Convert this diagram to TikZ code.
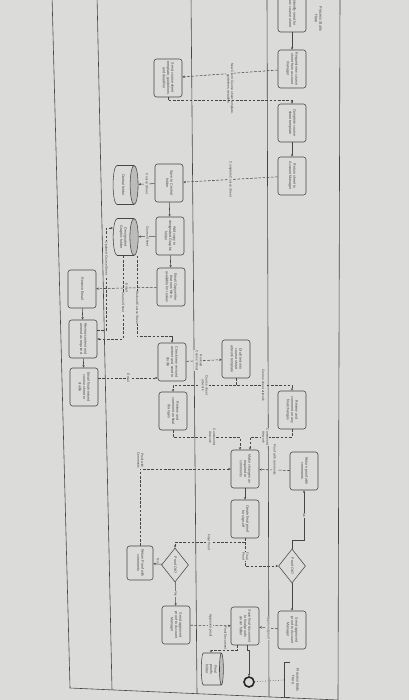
\documentclass[tikz,border=0pt]{standalone}
\usepackage{fontspec}
\setmainfont{Liberation Sans}
\usepackage{graphicx}
\usepackage{tikz}
\usetikzlibrary{shapes.geometric}
\usetikzlibrary{arrows.meta}
\usetikzlibrary{calc}
\definecolor{pagec}{RGB}{219,220,217}
\definecolor{linec}{RGB}{70,70,70}
\definecolor{capc}{RGB}{188,189,186}
\newcommand{\vt}[1]{\rotatebox{-90}{\begin{tabular}{@{}c@{}}#1\end{tabular}}}
\tikzset{task/.style={draw=linec, fill=pagec, rounded corners=2.5pt, line width=0.55pt, inner sep=0.5pt, minimum width=28pt, minimum height=38pt, text=linec, font=\fontsize{3.6}{4.2}\selectfont}}
\tikzset{gate/.style={diamond, draw=linec, fill=pagec, line width=0.55pt, inner sep=0pt, minimum width=27pt, minimum height=34pt, text=linec, font=\fontsize{3.6}{4.2}\selectfont}}
\tikzset{store/.style={cylinder, shape border rotate=0, shape aspect=0.35, draw=linec, cylinder uses custom fill, cylinder body fill=pagec, cylinder end fill=capc, line width=0.55pt, inner sep=0.5pt, minimum width=39pt, minimum height=25pt, text=linec, font=\fontsize{3.6}{4.2}\selectfont}}
\tikzset{stop/.style={circle, draw=black!85, line width=1.6pt, minimum size=10pt, inner sep=0pt}}
\tikzset{note/.style={text=linec, inner sep=1pt, minimum width=22pt, minimum height=35pt, font=\fontsize{3.8}{4.4}\selectfont}}
\tikzset{flow/.style={draw=linec, line width=0.55pt, -{Stealth[length=2.6pt,width=2.2pt]}}}
\tikzset{msg/.style={flow, dash pattern=on 2.6pt off 1.6pt}}
\tikzset{lbl/.style={fill=pagec, inner sep=0.4pt, text=linec, font=\fontsize{3.3}{3.9}\selectfont}}
\tikzset{lane/.style={draw=linec, line width=0.6pt}}

\begin{document}
\begin{tikzpicture}[x=1pt, y=-1pt]
  \useasboundingbox (0,0) rectangle (409,700);
  \fill[pagec] (0,0) rectangle (409,700);

  % swimlanes
  \draw[lane] (52,-5) -- (70,688) -- (338,700);
  \draw[lane] (97,-5) -- (112,690);
  \draw[lane] (191,-5) -- (197,694);
  \draw[lane] (267,-5) -- (269,697);
  \draw[lane] (340,-5) -- (338,700);

  \node[note] at (318, 19) (ps) {\vt{Process Starts\\Here}};

  \node[task] at (292, 13) (idn) {\vt{Identify need for\\new course sheet}};
  \node[task] at (292, 69) (req) {\vt{Request new course\\sheet from account\\manager}};
  \node[task] at (292, 123) (cmp) {\vt{Complete course\\sheet template}};
  \node[task] at (292, 176) (ret) {\vt{Return sheet to\\Account Manager}};

  \node[task] at (168, 78) (snd) {\vt{Send course sheet\\template, guidelines\\and deadline}};
  \node[task] at (169, 183) (stc) {\vt{Save to Central\\folder}};
  \node[store] at (123, 185) (cfo) {\vt{Central folder}};
  \node[task] at (170, 236) (adc) {\vt{Add copy to\\designated Graphic\\folder}};
  \node[store, minimum width=37pt] at (123, 237) (dgf) {\vt{Designated\\Graphic folder}};
  \node[task] at (171, 287) (emc) {\vt{Email Copywriter\\that new file is\\available for review}};

  \node[task] at (82, 289) (rce) {\vt{Receive Email}};
  \node[task] at (83, 339) (rca) {\vt{Review content and\\amend as required}};
  \node[task] at (84, 387) (efr) {\vt{Email final revised\\course sheet to\\studio}};

  \node[task] at (172, 362) (chk) {\vt{Check new revised\\content and send to\\studio}};
  \node[task] at (236, 359) (drf) {\vt{Draft text into\\course sheet\\artwork template}};
  \node[task] at (173, 411) (rvc) {\vt{Review and\\comment on final\\changes}};
  \node[task] at (292, 410) (rvf) {\vt{Review and\\comment on any\\final changes}};

  \node[task] at (245, 469) (mkc) {\vt{Make changes as\\required to\\comments}};
  \node[task] at (304, 471) (rpc) {\vt{Return proof with\\comments}};
  \node[task] at (245, 519) (cfp) {\vt{Create final proof\\for sign-off}};
  \node[gate] at (175, 565) (ok1) {\vt{Proof OK?}};
  \node[gate] at (292, 566) (ok2) {\vt{Proof OK?}};
  \node[task, minimum width=26pt, minimum height=34pt] at (140, 563) (rpw) {\vt{Return Proof with\\comments}};

  \node[task] at (176, 625) (sap1) {\vt{Send approved\\proof to Account\\Manager}};
  \node[task] at (292, 630) (sap2) {\vt{Send approved\\proof to Account\\Manager}};
  \node[task] at (245, 626) (sfd) {\vt{Save final document\\to final proofs\\server folder}};
  \node[store, minimum width=32pt, minimum height=22pt] at (211, 669) (ffo) {\vt{Final\\proofs\\folder}};
  \node[stop] at (249, 682) (end) {};
  \node[note] at (295, 680) (pe) {\vt{Process Ends\\Here}};
  \draw[linec, line width=0.5pt] ([xshift=6pt]pe.north west) -- (pe.north west) -- (pe.south west) -- ([xshift=6pt]pe.south west);

  \draw (idn) edge[flow] (req);
  \draw (req) edge[msg] node[lbl, anchor=north, yshift=11pt] {\vt{New Client Course sheet template,\\guidelines, deadline}} (snd);
  \draw[msg] (snd.south) |- ([yshift=3pt]cmp.north) -- (cmp.north);
  \draw (cmp) edge[flow] (ret);
  \draw (ret) edge[msg] node[lbl] {\vt{Complete Course Sheet}} (stc);
  \draw (stc) edge[flow] node[lbl] {\vt{Course Sheet}} (cfo);
  \draw (stc) edge[flow] (adc);
  \draw (adc) edge[flow] node[lbl] {\vt{Course Sheet}} (dgf);
  \draw (adc) edge[flow] (emc);
  \draw (emc) edge[msg] node[lbl] {\vt{Email}} (rce);
  \draw (rce) edge[flow] (rca);
  \draw (rca) edge[flow] (efr);
  \draw[msg] (dgf.south) |- node[lbl, pos=0.28] {\vt{Course Sheet}} (rca);
  \draw[msg] ([xshift=14pt]dgf.south) |- node[lbl, pos=0.32] {\vt{Revised Course Sheet}} ([yshift=6pt]chk.north) -- (chk.north);
  \draw[msg] ([yshift=9pt]rca.east) -- ++(9,0) |- node[lbl, pos=0.35] {\vt{Updated Course Sheet}} ([yshift=9pt]dgf.west);
  \draw[msg] ([yshift=9pt]efr.east) -- node[lbl] {\vt{Email}} ([yshift=-16pt]chk.west);

  \draw (chk) edge[msg] node[lbl, pos=0.35] {\vt{Revised\\Course Sheet}} (drf);
  \coordinate (spl1) at ([yshift=-7pt]drf.south);
  \draw[msg] (drf.south) -- (spl1) -| node[lbl, pos=0.24] {\vt{Course sheet artwork}} (rvf.north);
  \draw[msg] (spl1) -| node[lbl, pos=0.25] {\vt{Course sheet\\artwork}} (rvc.north);
  \draw[msg] (rvc.south) -- ++(0,7) -| node[lbl, pos=0.29] {\vt{Comments/\\Artwork}} ([xshift=-5pt]mkc.north);
  \draw[msg] (rvf.south) -- ++(0,8) -| node[lbl, pos=0.32] {\vt{Comments/\\Artwork}} ([xshift=5pt]mkc.north);
  \draw (rpc) edge[msg] node[lbl, yshift=10pt] {\vt{Proof with comments}} (mkc);
  \draw[msg] (rpw.north) |- node[lbl, pos=0.5, anchor=south] {\vt{Proof with\\Comments}} (mkc);

  \draw (mkc) edge[flow] (cfp);
  \coordinate (spl2) at ([yshift=-4pt]cfp.south);
  \draw[msg] (cfp.south) -- (spl2) -| node[lbl, pos=0.26] {\vt{Final Proof}} (ok1.north);
  \draw[msg] (spl2) |- node[lbl, pos=0.3] {\vt{Final\\Proof}} (ok2.west);

  \draw[flow] (ok2.north) -- ++(0,-8) -| node[lbl, pos=0.75] {\vt{No}} (rpc.south);
  \draw (ok2) edge[flow] (sap2);
  \draw (ok1) edge[flow] node[lbl, fill=none, above=0.3pt] {\vt{No}} (rpw);
  \draw (ok1) edge[flow] node[lbl] {\vt{Yes}} (sap1);
  \draw (sap1) edge[msg] node[lbl] {\vt{Approved proof}} (sfd);
  \draw (sap2) edge[msg] node[lbl] {\vt{Approved proof}} (sfd);
  \draw[msg] ([xshift=-8pt]sfd.south) -- ++(0,5) -| node[lbl, pos=0.23, anchor=south, fill=none] {\vt{Final Document}} (ffo.north);
  \draw[flow] ([xshift=2pt]sfd.south) -- ++(0,5) -| (end);
  \draw[dotted, linec, line width=0.6pt] (end) -- (pe.west);
\end{tikzpicture}
\end{document}
